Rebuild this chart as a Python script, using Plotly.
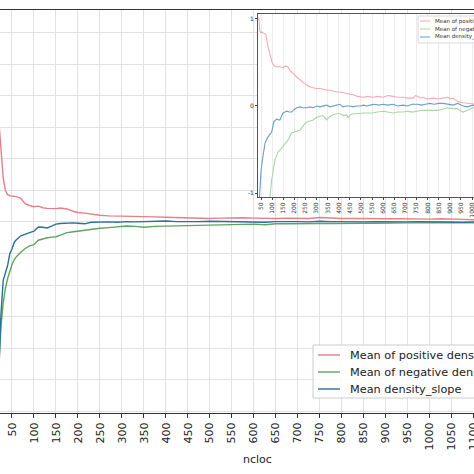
import plotly.graph_objects as go

# ---------------- main chart data ----------------
main_x = [20, 25, 30, 35, 40, 45, 50, 55, 60, 70, 80, 90, 100, 110, 120, 130, 140, 150, 160, 175,
          190, 200, 215, 230, 250, 270, 290, 310, 330, 350, 375, 400, 425, 450, 475, 500, 525, 550,
          575, 600, 625, 650, 675, 700, 725, 750, 775, 800, 825, 850, 875, 900, 925, 950, 975, 1000,
          1025, 1050, 1075, 1100, 1125]
main_pos = [3.2, 2.3, 1.4, 1.0, 0.86, 0.83, 0.82, 0.81, 0.80, 0.75, 0.58, 0.52, 0.48, 0.50, 0.45,
            0.43, 0.42, 0.42, 0.44, 0.41, 0.33, 0.30, 0.28, 0.24, 0.21, 0.19, 0.18, 0.17, 0.18, 0.16,
            0.16, 0.15, 0.14, 0.12, 0.11, 0.11, 0.12, 0.13, 0.13, 0.12, 0.11, 0.11, 0.12, 0.12, 0.11,
            0.14, 0.12, 0.11, 0.11, 0.10, 0.11, 0.10, 0.10, 0.09, 0.10, 0.09, 0.10, 0.08, 0.08, 0.07,
            0.07]
main_neg = [-4.7, -3.3, -2.57, -2.1, -1.8, -1.55, -1.35, -1.2, -1.1, -0.96, -0.84, -0.76, -0.72,
            -0.58, -0.53, -0.50, -0.48, -0.47, -0.42, -0.34, -0.31, -0.29, -0.26, -0.24, -0.20,
            -0.18, -0.15, -0.13, -0.14, -0.17, -0.14, -0.13, -0.13, -0.12, -0.10, -0.10, -0.09,
            -0.07, -0.06, -0.07, -0.09, -0.06, -0.06, -0.05, -0.06, -0.05, -0.05, -0.04, -0.05,
            -0.04, -0.04, -0.03, -0.04, -0.03, -0.03, -0.02, -0.03, -0.02, -0.03, -0.02, -0.02]
main_mean = [-4.6, -2.9, -1.85, -1.6, -1.38, -1.0, -0.86, -0.65, -0.56, -0.44, -0.38, -0.34, -0.29,
             -0.16, -0.17, -0.19, -0.13, -0.07, -0.05, -0.03, -0.03, -0.04, -0.06, -0.01, 0.0, 0.0,
             -0.01, 0.01, 0.0, 0.01, 0.02, 0.03, 0.01, 0.0, 0.01, 0.02, 0.01, 0.0, 0.01, 0.0, -0.01,
             0.01, 0.02, 0.01, 0.0, 0.02, 0.01, 0.0, 0.01, 0.0, 0.01, 0.0, -0.01, 0.0, 0.01, 0.0,
             0.01, 0.0, -0.01, 0.0, 0.0]

# ---------------- inset data ----------------
in_pos_x = [40, 45, 50, 55, 60, 65, 72, 80, 90, 100, 110, 120, 135, 150, 160, 170, 180, 190, 200,
            212, 225, 235, 245, 257, 270, 284, 300, 316, 330, 347, 360, 374, 390, 405, 419, 440,
            464, 485, 509, 530, 554, 575, 600, 620, 645, 665, 690, 712, 735, 745, 757, 770, 780,
            800, 825, 850, 870, 890, 905, 915, 925, 937, 950, 978, 1000, 1020]
in_pos_y = [1.02, 0.86, 0.84, 0.85, 0.84, 0.83, 0.82, 0.70, 0.58, 0.50, 0.46, 0.45, 0.45, 0.44,
            0.46, 0.45, 0.41, 0.39, 0.36, 0.33, 0.30, 0.28, 0.26, 0.24, 0.22, 0.21, 0.20, 0.20,
            0.19, 0.18, 0.18, 0.17, 0.16, 0.16, 0.15, 0.14, 0.13, 0.11, 0.10, 0.11, 0.10, 0.11,
            0.10, 0.12, 0.11, 0.10, 0.10, 0.09, 0.09, 0.12, 0.11, 0.09, 0.10, 0.08, 0.09, 0.08,
            0.09, 0.10, 0.08, 0.09, 0.07, 0.05, 0.04, 0.03, 0.03, 0.02]
in_neg_x = [75, 90, 98, 105, 113, 120, 127, 138, 149, 160, 172, 180, 188, 200, 211, 225, 237, 248,
            260, 271, 285, 301, 315, 329, 346, 360, 374, 390, 406, 420, 436, 442, 452, 464, 485,
            509, 530, 554, 575, 600, 620, 645, 665, 690, 710, 730, 753, 775, 798, 820, 843, 865,
            888, 910, 933, 945, 960, 980, 1005, 1020]
in_neg_y = [-1.3, -1.05, -0.85, -0.72, -0.62, -0.57, -0.53, -0.50, -0.47, -0.43, -0.39, -0.34,
            -0.31, -0.30, -0.29, -0.28, -0.24, -0.20, -0.18, -0.17, -0.16, -0.13, -0.12, -0.11,
            -0.16, -0.12, -0.10, -0.09, -0.09, -0.11, -0.10, -0.14, -0.10, -0.09, -0.09, -0.08,
            -0.08, -0.08, -0.07, -0.06, -0.07, -0.08, -0.07, -0.07, -0.06, -0.07, -0.06, -0.05,
            -0.05, -0.05, -0.05, -0.04, -0.02, -0.03, -0.03, -0.05, -0.07, -0.05, -0.02, -0.02]
in_mean_x = [42, 50, 58, 68, 80, 90, 98, 108, 115, 121, 128, 135, 142, 149, 158, 166, 177, 188,
             200, 211, 225, 239, 255, 271, 285, 301, 315, 330, 346, 360, 375, 391, 405, 419, 435,
             451, 465, 480, 496, 512, 525, 541, 560, 580, 600, 620, 645, 665, 690, 710, 730, 753,
             775, 790, 811, 830, 850, 870, 890, 915, 935, 960, 980, 1005, 1020]
in_mean_y = [-1.1, -0.75, -0.59, -0.43, -0.36, -0.32, -0.30, -0.18, -0.16, -0.15, -0.16, -0.16,
             -0.12, -0.08, -0.07, -0.06, -0.07, -0.07, -0.04, -0.02, -0.01, -0.02, -0.02, -0.01,
             -0.02, 0.0, -0.01, 0.0, 0.01, -0.01, 0.0, 0.01, 0.02, -0.01, 0.0, 0.0, -0.01, 0.0,
             0.0, 0.01, 0.0, 0.01, 0.02, 0.01, 0.02, 0.01, 0.02, 0.0, 0.01, 0.0, 0.02, 0.02, 0.01,
             0.02, 0.03, 0.02, 0.03, 0.03, 0.02, 0.01, 0.03, 0.0, -0.01, 0.01, 0.0]

names = ["Mean of positive density_slope", "Mean of negative density_slope", "Mean density_slope"]
main_colors = ["#e3808a", "#5ea65e", "#2c6e9e"]
inset_colors = ["#f2aab6", "#a9d5a9", "#6a9fc8"]

fig = go.Figure()
for ys, nm, c in zip([main_pos, main_neg, main_mean], names, main_colors):
    fig.add_trace(go.Scatter(x=main_x, y=ys, mode="lines", name=nm, showlegend=False,
                             line=dict(color=c, width=1.4), xaxis="x", yaxis="y"))

for xs, ys, nm, c in zip([in_pos_x, in_neg_x, in_mean_x], [in_pos_y, in_neg_y, in_mean_y],
                         names, inset_colors):
    fig.add_trace(go.Scatter(x=xs, y=ys, mode="lines", name=nm, showlegend=False,
                             line=dict(color=c, width=1.1), xaxis="x2", yaxis="y2"))

H_PLOT = 403.0
def py(p):
    return (413.0 - p) / H_PLOT
def px(p):
    return p / 474.0

shapes = []
annotations = []

# main legend (box, line samples and labels)
shapes.append(dict(type="rect", xref="paper", yref="paper", x0=px(313), x1=px(480), y0=py(398),
                   y1=py(345), fillcolor="rgba(255,255,255,0.85)",
                   line=dict(color="#cccccc", width=1)))
for i, (nm, c) in enumerate(zip(names, main_colors)):
    yy = py(355 + 17 * i)
    shapes.append(dict(type="line", xref="paper", yref="paper", x0=px(318), x1=px(340), y0=yy,
                       y1=yy, line=dict(color=c, width=1.4)))
    annotations.append(dict(text=nm, xref="paper", yref="paper", x=px(348), y=yy, xanchor="left",
                            yanchor="middle", showarrow=False,
                            font=dict(family="DejaVu Sans", size=11.3, color="#222")))

# inset legend
shapes.append(dict(type="rect", xref="paper", yref="paper", x0=px(418), x1=px(480), y0=py(43),
                   y1=py(16), fillcolor="rgba(255,255,255,0.9)",
                   line=dict(color="#d0d0d0", width=0.8)))
for i, (nm, c) in enumerate(zip(names, inset_colors)):
    yy = py(21 + 8 * i)
    shapes.append(dict(type="line", xref="paper", yref="paper", x0=px(420), x1=px(430), y0=yy,
                       y1=yy, line=dict(color=c, width=1)))
    annotations.append(dict(text=nm, xref="paper", yref="paper", x=px(433), y=yy, xanchor="left",
                            yanchor="middle", showarrow=False,
                            font=dict(family="DejaVu Sans", size=5.5, color="#333")))

annotations.append(dict(text="ncloc", xref="paper", yref="paper", x=px(257), y=py(459),
                        xanchor="center", yanchor="middle", showarrow=False,
                        font=dict(family="DejaVu Sans", size=11, color="#222")))

fig.update_layout(
    width=474, height=474,
    margin=dict(l=0, r=0, t=10, b=61, autoexpand=False),
    paper_bgcolor="white", plot_bgcolor="white",
    font=dict(family="DejaVu Sans", color="#222"),
    showlegend=False,
    xaxis=dict(domain=[0, 1], range=[22.73, 1100.4], tick0=0, dtick=50, tickangle=-90,
               ticks="outside", ticklen=4, tickcolor="#333", tickfont=dict(size=11),
               ticklabeloverflow="allow",
               showline=True, linecolor="#333", linewidth=1.2, mirror=True,
               showgrid=True, gridcolor="#e2e2e2", gridwidth=1.2, zeroline=False),
    yaxis=dict(domain=[0, 1], range=[-6.05, 6.71], tick0=0, dtick=1, showticklabels=False,
               showgrid=True, gridcolor="#e2e2e2", gridwidth=1.2, zeroline=False, showline=False),
    xaxis2=dict(domain=[258 / 474.0, 1], anchor="y2", range=[36.5, 1009], tick0=0, dtick=50,
                tickangle=-90, ticks="outside", ticklen=2, tickcolor="#444",
                tickfont=dict(size=6, color="#333"), ticklabeloverflow="allow",
                showline=True, linecolor="#555",
                linewidth=1, mirror=True, showgrid=True, gridcolor="#ececec", gridwidth=1,
                zeroline=False),
    yaxis2=dict(domain=[py(197), py(14)], anchor="x2", range=[-1.046, 1.057],
                tickvals=[-1, 0, 1], ticktext=["-1", "0", "1"], ticks="outside", ticklen=2,
                tickcolor="#444", tickfont=dict(size=6, color="#333"), showline=True,
                linecolor="#555", linewidth=1, mirror=False, showgrid=False, zeroline=False),
    shapes=shapes,
    annotations=annotations,
)

fig.write_html("out.html")
